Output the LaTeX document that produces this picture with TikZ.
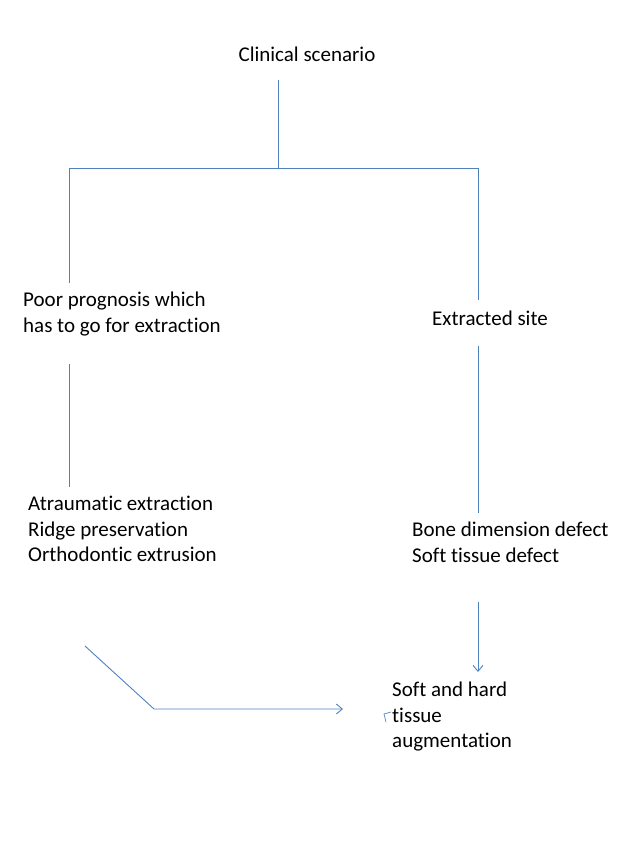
\documentclass[tikz,border=0pt]{standalone}
\usepackage{fontspec}
\setmainfont{Carlito}[RawFeature=-liga]
\usetikzlibrary{arrows.meta}
\definecolor{ac}{HTML}{4F81BD}
\begin{document}
\begin{tikzpicture}[x=1pt,y=-1pt,
  ln/.style={draw=ac, line width=0.9pt},
  tip/.style={-{Straight Barb[length=6pt,width=10pt]}},
  txt/.style={anchor=north west, align=left, inner sep=0pt, font=\fontsize{21}{25.5}\selectfont}]
\useasboundingbox (0,0) rectangle (638,851);
\node[txt, anchor=center] (cs) at (307,54) {Clinical scenario};
\node[txt] (pp) at (23,292) {Poor prognosis which\\has to go for extraction};
\node[txt] (es) at (432,311) {Extracted site};
\node[txt] (ae) at (28,496) {Atraumatic extraction\\Ridge preservation\\Orthodontic extrusion};
\node[txt] (bd) at (412,522) {Bone dimension defect\\Soft tissue defect};
\node[txt] (sh) at (392,682) {Soft and hard\\tissue\\augmentation};
\coordinate (a1) at (278,80); \coordinate (a2) at (278,168);
\coordinate (l1) at (69,168); \coordinate (l2) at (69,283);
\coordinate (r1) at (478,168); \coordinate (r2) at (478,300);
\draw[ln] (a1) -- (a2);
\draw[ln] (l2) -- (l1) -- (r1) -- (r2);
\draw[ln] (69,364) -- (69,487);
\draw[ln] (478,346) -- (478,513);
\draw[ln,tip] (478,602) -- (478,672);
\draw[ln,tip] (85,646) -- (154,709) -- (343,709);
\draw[ln, line width=0.7pt] (386,722) -- (384,714) -- (391,712);
\end{tikzpicture}
\end{document}
